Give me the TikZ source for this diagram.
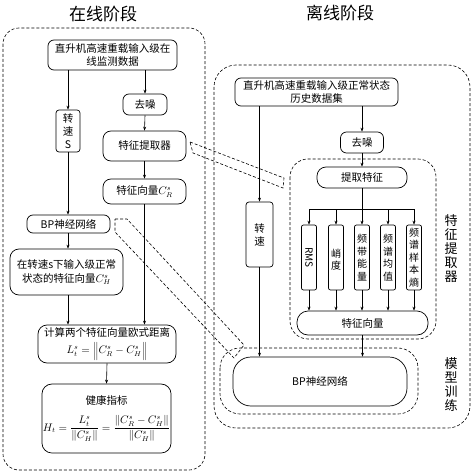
\documentclass[tikz,border=0pt]{standalone}
\usepackage{fontspec}
\setmainfont{Noto Sans CJK SC}
\usetikzlibrary{arrows.meta}
\begin{document}
\begin{tikzpicture}[x=1pt,y=-1pt,
            box/.style={draw,rounded corners=6pt,line width=0.7pt,align=center,inner sep=1pt,font=\fontsize{10.5}{13}\selectfont},
            bar/.style={draw,rounded corners=2pt,line width=0.7pt,align=center,inner sep=0pt,minimum width=15pt,minimum height=65pt,font=\fontsize{10}{12.5}\selectfont},
            zone/.style={draw,dash pattern=on 3pt off 2pt,line width=0.6pt},
            side/.style={align=center,font=\fontsize{13}{14}\selectfont},
            flow/.style={-{Stealth[length=4pt,width=3pt]},line width=0.6pt}]
            \useasboundingbox (0,0) rectangle (474,476);

            \node[font=\fontsize{17}{20}\selectfont] (titon) at (103,14) {在线阶段};
            \node[font=\fontsize{17}{20}\selectfont] (titoff) at (340,13) {离线阶段};

            \draw[zone,rounded corners=16pt] (3,28) rectangle (205,470);
            \draw[zone,rounded corners=22pt] (214,65) rectangle (470,428);
            \draw[zone,rounded corners=18pt] (290,159) rectangle (436,339);
            \draw[zone,rounded corners=20pt] (220,348) rectangle (418,414);

            \draw[zone] (190,142) -- (284,178) -- (283,188) -- (193,153) -- cycle;
            \draw[zone] (115,219) -- (127,219) -- (244,345) -- (234,358) -- (115,232) -- cycle;

            \node[box,minimum width=129pt,minimum height=30pt] (inon) at (112.5,55) {直升机高速重载输入级在\\线监测数据};
            \node[box,minimum width=44pt,minimum height=21pt] (dnon) at (145,104.5) {去噪};
            \node[box,rounded corners=3pt,minimum width=24pt,minimum height=42pt] (spdon) at (68,131) {转\\速\\S};
            \node[box,rounded corners=8pt,minimum width=83pt,minimum height=30pt] (feon) at (144.5,146) {特征提取器};
            \node[box,rounded corners=8pt,minimum width=83pt,minimum height=25pt] (cron) at (144.5,191.5) {特征向量$C_R^s$};
            \node[box,minimum width=83pt,minimum height=18pt] (bpon) at (68.5,224) {BP神经网络};
            \node[box,rounded corners=9pt,minimum width=113pt,minimum height=46pt] (chon) at (66.5,272) {在转速s下输入级正常\\[1pt]状态的特征向量$C_H^s$};
            \node[box,rounded corners=9pt,minimum width=138pt,minimum height=38pt] (dist) at (107,344) {计算两个特征向量欧式距离\\[4pt]$L_t^s=\Big\|C_R^s-C_H^s\Big\|$};
            \node[box,rounded corners=10pt,minimum width=127pt,minimum height=69pt] (hi) at (106.5,418.5) {健康指标\\[9pt]$\displaystyle H_t=\frac{L_t^s}{\big\|C_H^s\big\|}=\frac{\big\|C_R^s-C_H^s\big\|}{\big\|C_H^s\big\|}$};

            \node[box,minimum width=163pt,minimum height=28pt] (inoff) at (316.5,92) {直升机高速重载输入级正常状态\\历史数据集};
            \node[box,minimum width=43pt,minimum height=21pt] (dnoff) at (362,142.5) {去噪};
            \node[box,rounded corners=3pt,minimum width=27pt,minimum height=65pt] (spdoff) at (259.5,234.5) {转\\速};
            \node[box,rounded corners=9pt,minimum width=90pt,minimum height=21pt] (extr) at (362,177.5) {提取特征};
            \node[bar] (rms) at (309,257.5) {\rotatebox{-90}{RMS}};
            \node[bar] (kur) at (336,257.5) {\\峭\\度};
            \node[bar] (band) at (362,257.5) {频\\带\\能\\量};
            \node[bar] (mean) at (388,257.5) {频\\谱\\均\\值};
            \node[bar] (ent) at (414,257.5) {频\\谱\\样\\本\\熵};
            \node[box,rounded corners=11pt,minimum width=131pt,minimum height=24pt] (fvoff) at (362.5,323) {特征向量};
            \node[box,rounded corners=18pt,minimum width=174pt,minimum height=49pt] (bpoff) at (320,381.5) {BP神经网络};
            \coordinate (bus) at (362,209);

            \node[side] (lbfe) at (451,249) {特\\征\\提\\取\\器};
            \node[side] (lbmt) at (451,385) {模\\型\\训\\练};

            \draw[flow] (inon.south -| dnon.north) -- (dnon.north);
            \draw[flow] (dnon.south) -- (feon.north);
            \draw[flow] (feon.south) -- (cron.north);
            \draw[flow] (inon.south -| spdon.north) -- (spdon.north);
            \draw[flow] (spdon.south) -- (spdon.south |- bpon.north);
            \draw[flow] (spdon.south |- bpon.south) -- (spdon.south |- chon.north);
            \draw[flow] (spdon.south |- chon.south) -- (spdon.south |- dist.north);
            \draw[flow] (cron.south) -- (cron.south |- dist.north);
            \draw[flow] (dist.south) -- (hi.north);

            \draw[flow] (inoff.south -| dnoff.north) -- (dnoff.north);
            \draw[flow] (dnoff.south) -- (extr.north);
            \draw[flow] (inoff.south -| spdoff.north) -- (spdoff.north);
            \draw[flow] (spdoff.south) -- (spdoff.south |- bpoff.north);
            \draw (rms.north |- bus) -- (ent.north |- bus);
            \draw[flow] (extr.south) -- (band.north);
            \draw[flow] (rms.north |- bus) -- (rms.north);
            \draw[flow] (kur.north |- bus) -- (kur.north);
            \draw[flow] (mean.north |- bus) -- (mean.north);
            \draw[flow] (ent.north |- bus) -- (ent.north);
            \draw[flow] (rms.south) -- (rms.south |- fvoff.north);
            \draw[flow] (kur.south) -- (kur.south |- fvoff.north);
            \draw[flow] (band.south) -- (band.south |- fvoff.north);
            \draw[flow] (mean.south) -- (mean.south |- fvoff.north);
            \draw[flow] (ent.south) -- (ent.south |- fvoff.north);
            \draw[flow] (fvoff.south) -- (fvoff.south |- bpoff.north);
        \end{tikzpicture}
\end{document}
